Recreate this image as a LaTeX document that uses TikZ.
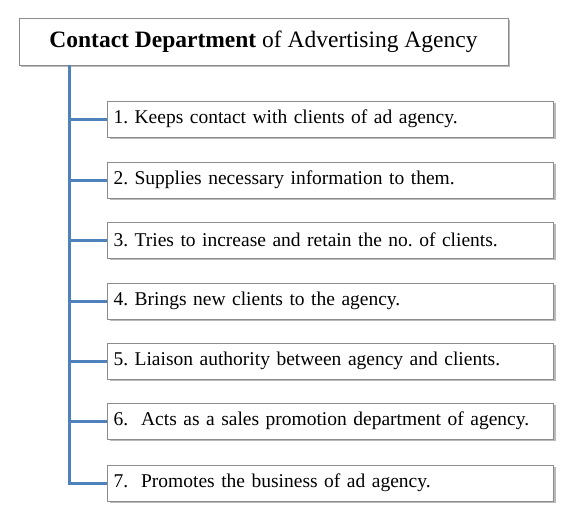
\documentclass[tikz,border=0pt]{standalone}
\usepackage{fontspec}
\setmainfont{Liberation Serif}
\frenchspacing
\usetikzlibrary{shadows}
\definecolor{trunkblue}{RGB}{79,129,189}
\definecolor{boxgray}{RGB}{140,140,140}

\begin{document}
\begin{tikzpicture}[x=1pt,y=-1pt,
  box/.style={draw=boxgray, line width=1pt, fill=white, rectangle,
    drop shadow={shadow xshift=2pt, shadow yshift=-2pt, fill=black!45, opacity=0.6}},
  item/.style={box, anchor=west, text width=434pt, inner sep=6pt, minimum height=36pt,
    align=left, font=\fontsize{19.5}{22}\selectfont},
  link/.style={draw=trunkblue, line width=3pt}]
\useasboundingbox (0,0) rectangle (575,528);
\node [box, minimum width=489pt, minimum height=47pt, font=\fontsize{23.5}{27}\selectfont]
  (title) at (263.5,41.5) {\textbf{Contact Department} of Advertising Agency};
\node [item] (i1) at (107,119) {1. Keeps contact with clients of ad agency.};
\node [item] (i2) at (107,180) {2. Supplies necessary information to them.};
\node [item] (i3) at (107,240) {3. Tries to increase and retain the no. of clients.};
\node [item] (i4) at (107,301) {4. Brings new clients to the agency.};
\node [item] (i5) at (107,361) {5. Liaison authority between agency and clients.};
\node [item] (i6) at (107,421) {6.\ \ Acts as a sales promotion department of agency.};
\node [item] (i7) at (107,483) {7.\ \ Promotes the business of ad agency.};
\coordinate (trunk) at (69,65);
\draw [link] (trunk) -- (trunk |- i7.west) -- (i7.west);
\draw [link] (trunk |- i1.west) -- (i1.west);
\draw [link] (trunk |- i2.west) -- (i2.west);
\draw [link] (trunk |- i3.west) -- (i3.west);
\draw [link] (trunk |- i4.west) -- (i4.west);
\draw [link] (trunk |- i5.west) -- (i5.west);
\draw [link] (trunk |- i6.west) -- (i6.west);
\end{tikzpicture}
\end{document}
